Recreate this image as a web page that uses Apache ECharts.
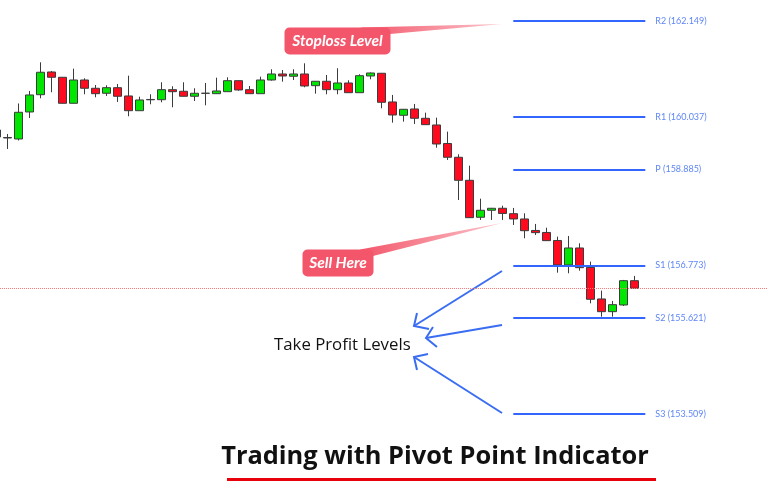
<!DOCTYPE html>
<html>
<head>
<meta charset="utf-8">
<script src="https://cdn.jsdelivr.net/npm/echarts@6/dist/echarts.min.js"></script>
<style>html,body{margin:0;padding:0;background:#fff;}</style>
</head>
<body>
<div id="main" style="width:768px;height:499px;"></div>
<script type="text/javascript">
// candles (oldest first)
var opens = [159.753,159.588,159.555,160.149,160.529,161.028,160.912,160.340,160.852,160.670,
  160.560,160.683,160.501,160.177,160.424,160.419,160.639,160.604,160.494,160.562,
  160.551,160.595,160.837,160.639,160.551,160.852,160.984,160.934,160.984,160.727,
  160.824,160.639,160.786,160.573,160.940,161.000,160.369,160.076,160.215,160.010,
  159.863,159.456,159.153,158.647,157.834,157.988,158.032,157.913,157.797,157.544,
  157.500,157.324,156.786,157.159,156.731,156.038,155.759,155.906,156.440];
var closes = [159.599,159.577,160.142,160.523,161.022,160.912,160.340,160.852,160.670,160.551,
  160.683,160.494,160.177,160.413,160.417,160.639,160.595,160.494,160.560,160.558,
  160.611,160.837,160.633,160.551,160.852,160.984,160.940,160.984,160.720,160.824,
  160.639,160.786,160.573,160.947,161.006,160.362,160.083,160.208,160.010,159.870,
  159.445,159.153,158.647,157.825,157.988,158.032,157.918,157.797,157.539,157.496,
  157.320,156.786,157.159,156.726,156.031,155.759,155.913,156.440,156.273];
var highs = [159.797,159.665,160.336,160.611,161.241,161.050,160.918,161.101,160.890,160.742,
  160.736,160.764,160.947,160.485,160.538,160.802,160.714,160.802,160.670,160.786,
  160.903,160.912,160.841,160.720,160.925,161.088,161.072,161.088,161.219,160.830,
  160.962,161.110,160.846,160.978,161.017,161.006,160.523,160.215,160.325,160.134,
  160.024,159.716,159.219,158.968,158.243,158.039,158.089,158.039,157.922,157.687,
  157.605,157.408,157.423,157.262,156.858,156.221,155.994,156.456,156.544];
var lows = [159.555,159.335,159.522,160.017,160.450,160.582,160.336,160.336,160.538,160.472,
  160.501,160.369,160.054,160.177,160.318,160.362,160.252,160.490,160.391,160.296,
  160.545,160.595,160.617,160.545,160.551,160.837,160.815,160.852,160.692,160.551,
  160.538,160.538,160.567,160.573,160.868,160.230,159.914,159.936,159.885,159.863,
  159.364,159.094,158.214,157.819,157.775,157.775,157.775,157.665,157.372,157.445,
  157.313,156.616,156.603,156.660,155.943,155.649,155.649,155.884,156.269];

// pivot levels
var pivotNames = ['R2','R1','P','S1','S2','S3'];
var pivotValues = [162.149,160.037,158.885,156.773,155.621,153.509];
var pivotFrom = 47, pivotTo = 59;
var lastPrice = 156.273;

// bar index -> [index, open, close, low, high]
var kdata = [];
for (var i = 0; i < opens.length; i++) {
  kdata.push([i, opens[i], closes[i], lows[i], highs[i]]);
}

var pivotLines = [];
for (var i = 0; i < pivotNames.length; i++) {
  pivotLines.push([
    {coord: [pivotFrom, pivotValues[i]]},
    {coord: [pivotTo, pivotValues[i]],
     label: {formatter: pivotNames[i] + ' (' + pivotValues[i].toFixed(3) + ')'}}
  ]);
}
pivotLines.push({yAxis: lastPrice, label: {show: false},
  lineStyle: {type: 'dotted', color: '#ff7b7b', width: 1}});

var pink = '#f3566a';
var blue = '#3a6df2';

var myChart = echarts.init(document.getElementById('main'));
var option = {
  animation: false,
  backgroundColor: '#fff',
  grid: {left: 0, right: 0, top: 21, bottom: 85},
  xAxis: {
    type: 'value', min: 0.336, max: 70.155,
    axisLine: {show: false}, axisTick: {show: false}, axisLabel: {show: false}, splitLine: {show: false}
  },
  yAxis: {
    type: 'value', min: 153.509, max: 162.149, scale: true,
    axisLine: {show: false}, axisTick: {show: false}, axisLabel: {show: false}, splitLine: {show: false}
  },
  series: [{
    type: 'candlestick',
    data: kdata,
    encode: {x: 0, y: [1, 2, 3, 4]},
    clip: false,
    barWidth: 8,
    itemStyle: {
      color: '#00e600', color0: '#ff0a1f',
      borderColor: '#3c3c3c', borderColor0: '#3c3c3c', borderWidth: 1
    },
    markLine: {
      silent: true,
      symbol: ['none', 'none'],
      lineStyle: {type: 'solid', color: '#3366ff', width: 2},
      label: {show: true, position: 'end', distance: 10, color: '#5f86f7',
        fontSize: 9, fontFamily: 'Lato'},
      data: pivotLines
    }
  }],
  graphic: [
    // stoploss callout
    {type: 'polygon', shape: {points: [[360, 27.5], [502, 24], [390, 34]]},
     style: {fill: new echarts.graphic.LinearGradient(0, 0, 1, 0,
       [{offset: 0, color: pink}, {offset: 1, color: 'rgba(243,86,106,0.35)'}])}},
    {type: 'rect', shape: {x: 284.5, y: 27.5, width: 106, height: 27, r: 5}, style: {fill: pink}},
    {type: 'text', x: 337.5, y: 41, style: {text: 'Stoploss Level', fill: '#fff',
      font: 'italic bold 15.5px Lato', align: 'center', verticalAlign: 'middle'}},
    // sell callout
    {type: 'polygon', shape: {points: [[360, 249.5], [502, 223], [373, 256]]},
     style: {fill: new echarts.graphic.LinearGradient(0, 0, 1, 0,
       [{offset: 0, color: pink}, {offset: 1, color: 'rgba(243,86,106,0.35)'}])}},
    {type: 'rect', shape: {x: 302.5, y: 249.5, width: 71, height: 27, r: 5}, style: {fill: pink}},
    {type: 'text', x: 338, y: 263, style: {text: 'Sell Here', fill: '#fff',
      font: 'italic bold 15.5px Lato', align: 'center', verticalAlign: 'middle'}},
    // take profit arrows
    {type: 'polyline', shape: {points: [[502, 271], [414, 326]]}, style: {stroke: blue, lineWidth: 2}},
    {type: 'polyline', shape: {points: [[417, 313], [414, 326], [429, 329]]}, style: {stroke: blue, lineWidth: 2, fill: null}},
    {type: 'polyline', shape: {points: [[502, 325], [426, 338]]}, style: {stroke: blue, lineWidth: 2}},
    {type: 'polyline', shape: {points: [[433, 327], [426, 338], [437, 347]]}, style: {stroke: blue, lineWidth: 2, fill: null}},
    {type: 'polyline', shape: {points: [[502, 413], [414, 357]]}, style: {stroke: blue, lineWidth: 2}},
    {type: 'polyline', shape: {points: [[428, 354], [414, 357], [417, 370]]}, style: {stroke: blue, lineWidth: 2, fill: null}},
    {type: 'text', x: 274, y: 345, style: {text: 'Take Profit Levels', fill: '#111',
      font: '16.8px "Open Sans"', align: 'left', verticalAlign: 'middle'}},
    // title
    {type: 'text', x: 435, y: 457, style: {text: 'Trading with Pivot Point Indicator', fill: '#111',
      font: 'bold 25.4px "Open Sans"', align: 'center', verticalAlign: 'middle'}},
    {type: 'line', shape: {x1: 227, y1: 479.5, x2: 656, y2: 479.5}, style: {stroke: '#e8000b', lineWidth: 3}}
  ]
};
myChart.setOption(option);
</script>
</body>
</html>
